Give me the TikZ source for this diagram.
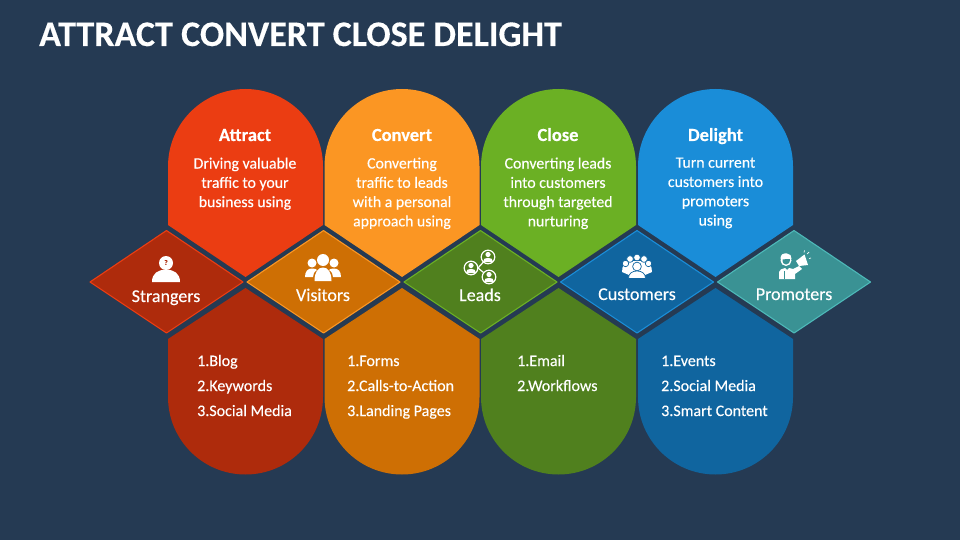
\documentclass[tikz,border=0pt]{standalone}
\usepackage{fontspec}
\setmainfont{Carlito}[RawFeature={embolden=0.25}]
\usetikzlibrary{positioning}

\definecolor{bgblue}{HTML}{253A53}
\definecolor{redhi}{HTML}{EB3D12}
\definecolor{redlo}{HTML}{AE2B0C}
\definecolor{orghi}{HTML}{FB9623}
\definecolor{orglo}{HTML}{CE6F04}
\definecolor{grnhi}{HTML}{6BB024}
\definecolor{grnlo}{HTML}{50801E}
\definecolor{blhi}{HTML}{1A8DD8}
\definecolor{bllo}{HTML}{10659F}
\definecolor{teallo}{HTML}{3A9294}
\definecolor{tealhi}{HTML}{4DB8B8}

\tikzstyle{head} = [font=\fontsize{18.5}{18.5}\selectfont\bfseries, text=white, anchor=base]
\tikzstyle{body} = [font=\fontsize{15.8}{19.3}\selectfont, text=white, anchor=base, align=center]
\tikzstyle{item} = [font=\fontsize{16}{19}\selectfont, text=white, anchor=base west, inner sep=0pt]
\tikzstyle{tag} = [font=\fontsize{18}{18}\selectfont, text=white, anchor=base, inner sep=0pt]
\tikzstyle{glyph} = [fill=white, draw=none]
\tikzstyle{crowd} = [fill=white, draw=bllo, line width=0.7pt]

\begin{document}
\begin{tikzpicture}[
            x = 1pt, % one pixel of the reference
            y = -1pt,
            line join = round
        ]

        \fill[bgblue] (0,0) rectangle (960,540);
        \useasboundingbox (0,0) rectangle (960,540);

        \node[font=\fontsize{36}{36}\selectfont\bfseries, text=white, anchor=base west, inner sep=0pt] (title) at (39,46) {ATTRACT CONVERT CLOSE DELIGHT};

        % upper panels
        \fill[redhi] (168,225) -- (168,166.5) arc[start angle=180, end angle=360, radius=77.5] -- (323,225) -- (245.5,277) -- cycle;
        \fill[orghi] (324.5,225) -- (324.5,166.5) arc[start angle=180, end angle=360, radius=77.5] -- (479.5,225) -- (402,277) -- cycle;
        \fill[grnhi] (481,225) -- (481,166.5) arc[start angle=180, end angle=360, radius=77.5] -- (636,225) -- (558.5,277) -- cycle;
        \fill[blhi] (638,225) -- (638,166.5) arc[start angle=180, end angle=360, radius=77.5] -- (793,225) -- (715.5,277) -- cycle;

        % lower panels
        \fill[redlo] (168,339) -- (168,397) arc[start angle=180, end angle=0, radius=77.5] -- (323,339) -- (245.5,288) -- cycle;
        \fill[orglo] (324.5,339) -- (324.5,397) arc[start angle=180, end angle=0, radius=77.5] -- (479.5,339) -- (402,288) -- cycle;
        \fill[grnlo] (481,339) -- (481,397) arc[start angle=180, end angle=0, radius=77.5] -- (636,339) -- (558.5,288) -- cycle;
        \fill[bllo] (638,339) -- (638,397) arc[start angle=180, end angle=0, radius=77.5] -- (793,339) -- (715.5,288) -- cycle;

        % diamonds
        \draw[redhi, fill=redlo, line width=1.1pt] (90,282) -- (166.5,230.5) -- (243,282) -- (166.5,333) -- cycle;
        \draw[orghi, fill=orglo, line width=1.1pt] (247,282) -- (323.5,230.5) -- (400,282) -- (323.5,333) -- cycle;
        \draw[grnhi, fill=grnlo, line width=1.1pt] (404,282) -- (480.5,230.5) -- (557,282) -- (480.5,333) -- cycle;
        \draw[blhi, fill=bllo, line width=1.1pt] (560.5,282) -- (637,230.5) -- (713.5,282) -- (637,333) -- cycle;
        \draw[tealhi, fill=teallo, line width=1.1pt] (717.5,282) -- (794,230.5) -- (870.5,282) -- (794,333) -- cycle;

        % panel texts
        \node[head] (attract) at (245,141) {Attract};
        \node[head] (convert) at (402,141) {Convert};
        \node[head] (close) at (558,141) {Close};
        \node[head] (delight) at (715.5,141) {Delight};

        \node[body, anchor=north] (attracttxt) at (245,154) {Driving valuable\\traffic to your\\business using};
        \node[body, anchor=north] (converttxt) at (402,154) {Converting\\traffic to leads\\with a personal\\approach using};
        \node[body, anchor=north] (closetxt) at (558,154) {Converting leads\\into customers\\through targeted\\nurturing};
        \node[body, anchor=north] (delighttxt) at (715.5,154) {Turn current\\customers into\\promoters\\using};

        \node[item] (blog) at (197,366) {1.Blog};
        \node[item] (keywords) at (197,391) {2.Keywords};
        \node[item] (social) at (197,416) {3.Social Media};
        \node[item] (forms) at (347,366) {1.Forms};
        \node[item] (calls) at (347,391) {2.Calls-to-Action};
        \node[item] (landing) at (347,416) {3.Landing Pages};
        \node[item] (email) at (517,366) {1.Email};
        \node[item] (flows) at (517,391) {2.Workflows};
        \node[item] (events) at (661,366) {1.Events};
        \node[item] (socialb) at (661,391) {2.Social Media};
        \node[item] (smart) at (661,416) {3.Smart Content};

        % diamond labels
        \node[tag] (strangers) at (166,302) {Strangers};
        \node[tag] (visitors) at (323,301) {Visitors};
        \node[tag] (leads) at (480,301) {Leads};
        \node[tag] (customers) at (637,300) {Customers};
        \node[tag] (promoters) at (794,300) {Promoters};

        % stranger icon
        \fill[glyph] (166,263) circle[radius=7];
        \fill[glyph] (152,282) .. controls (152,273) and (158,270) .. (166,269.5) .. controls (174,270) and (180,273) .. (180,282) -- cycle;
        \node[font=\fontsize{7}{7}\selectfont\bfseries, text=redlo, inner sep=0pt] (ask) at (166,262.5) {?};

        % visitor icon
        \fill[glyph] (323,260) circle[radius=6];
        \fill[glyph] (312,263) circle[radius=4.5];
        \fill[glyph] (334,263) circle[radius=4.5];
        \fill[glyph] (305,277) .. controls (305,271) and (308,268.5) .. (312,268.5) .. controls (315,268.5) and (316,269) .. (317,270) .. controls (314,272) and (313,274) .. (313,277) -- cycle;
        \fill[glyph] (341,277) .. controls (341,271) and (338,268.5) .. (334,268.5) .. controls (331,268.5) and (330,269) .. (329,270) .. controls (332,272) and (333,274) .. (333,277) -- cycle;
        \fill[glyph] (314.5,281) .. controls (314.5,272) and (318,267.5) .. (323,267.5) .. controls (328,267.5) and (331.5,272) .. (331.5,281) -- cycle;

        % lead icon
        \draw[white, line width=1.2pt] (471,268) -- (478,268) -- (488,257);
        \draw[white, line width=1.2pt] (478,268) -- (489,277);
        \draw[white, fill=grnlo, line width=1.2pt] (471,268) circle[radius=6.8];
        \draw[white, fill=grnlo, line width=1.2pt] (488,257) circle[radius=6.8];
        \draw[white, fill=grnlo, line width=1.2pt] (489,277) circle[radius=6.8];
        \fill[glyph] (471,265.5) circle[radius=2.6];
        \fill[glyph] (488,254.5) circle[radius=2.6];
        \fill[glyph] (489,274.5) circle[radius=2.6];
        \fill[glyph] (466,273) .. controls (466,270) and (468,268.8) .. (471,268.8) .. controls (474,268.8) and (476,270) .. (476,273) -- cycle;
        \fill[glyph] (483,262) .. controls (483,259) and (485,257.8) .. (488,257.8) .. controls (491,257.8) and (493,259) .. (493,262) -- cycle;
        \fill[glyph] (484,282) .. controls (484,279) and (486,277.8) .. (489,277.8) .. controls (492,277.8) and (494,279) .. (494,282) -- cycle;

        % customer icon
        \fill[glyph] (622,272) .. controls (622,265) and (625,262) .. (630,261) -- (644,261) .. controls (649,262) and (652,265) .. (652,272) -- (645,275) -- (629,275) -- cycle;
        \draw[crowd] (630,259) circle[radius=3.4];
        \draw[crowd] (644,259) circle[radius=3.4];
        \draw[crowd] (637,257.5) circle[radius=3.4];
        \draw[crowd] (625.5,263.5) circle[radius=3.2];
        \draw[crowd] (648.5,263.5) circle[radius=3.2];
        \draw[crowd] (637,266.5) circle[radius=4.4];
        \draw[crowd] (628.5,278.5) .. controls (628.5,273.5) and (632,271) .. (637,271) .. controls (642,271) and (645.5,273.5) .. (645.5,278.5) -- cycle;

        % promoter icon
        \fill[glyph] (786,260.5) circle[radius=5.5];
        \fill[glyph] (780.5,259) .. controls (780,254) and (784,253) .. (787,253.5) .. controls (790,253.5) and (792,256) .. (791.5,259) -- cycle;
        \fill[teallo] (782.5,259.5) .. controls (785,259) and (788,259) .. (790,259) .. controls (790,263) and (788,264.5) .. (786,264.5) .. controls (784,264.5) and (782.5,263) .. (782.5,259.5) -- cycle;
        \fill[glyph] (779,279) -- (779,272) .. controls (779,270) and (782,268.5) .. (785,268) -- (787,270) -- (789,268) -- (793,269) -- (799,266) -- (802,269) -- (795,274) -- (795,279) -- cycle;
        \draw[teallo, line width=0.7pt] (784,271) -- (784,279);
        \fill[glyph] (796,261) -- (804.5,254.5) -- (808,265) -- (799,266) -- cycle;
        \draw[white, line width=0.7pt] (807,254) -- (809,252);
        \draw[white, line width=0.7pt] (809,258.5) -- (811,258);
        \draw[white, line width=0.7pt] (804,252.5) -- (804.5,250.5);

    \end{tikzpicture}
\end{document}
